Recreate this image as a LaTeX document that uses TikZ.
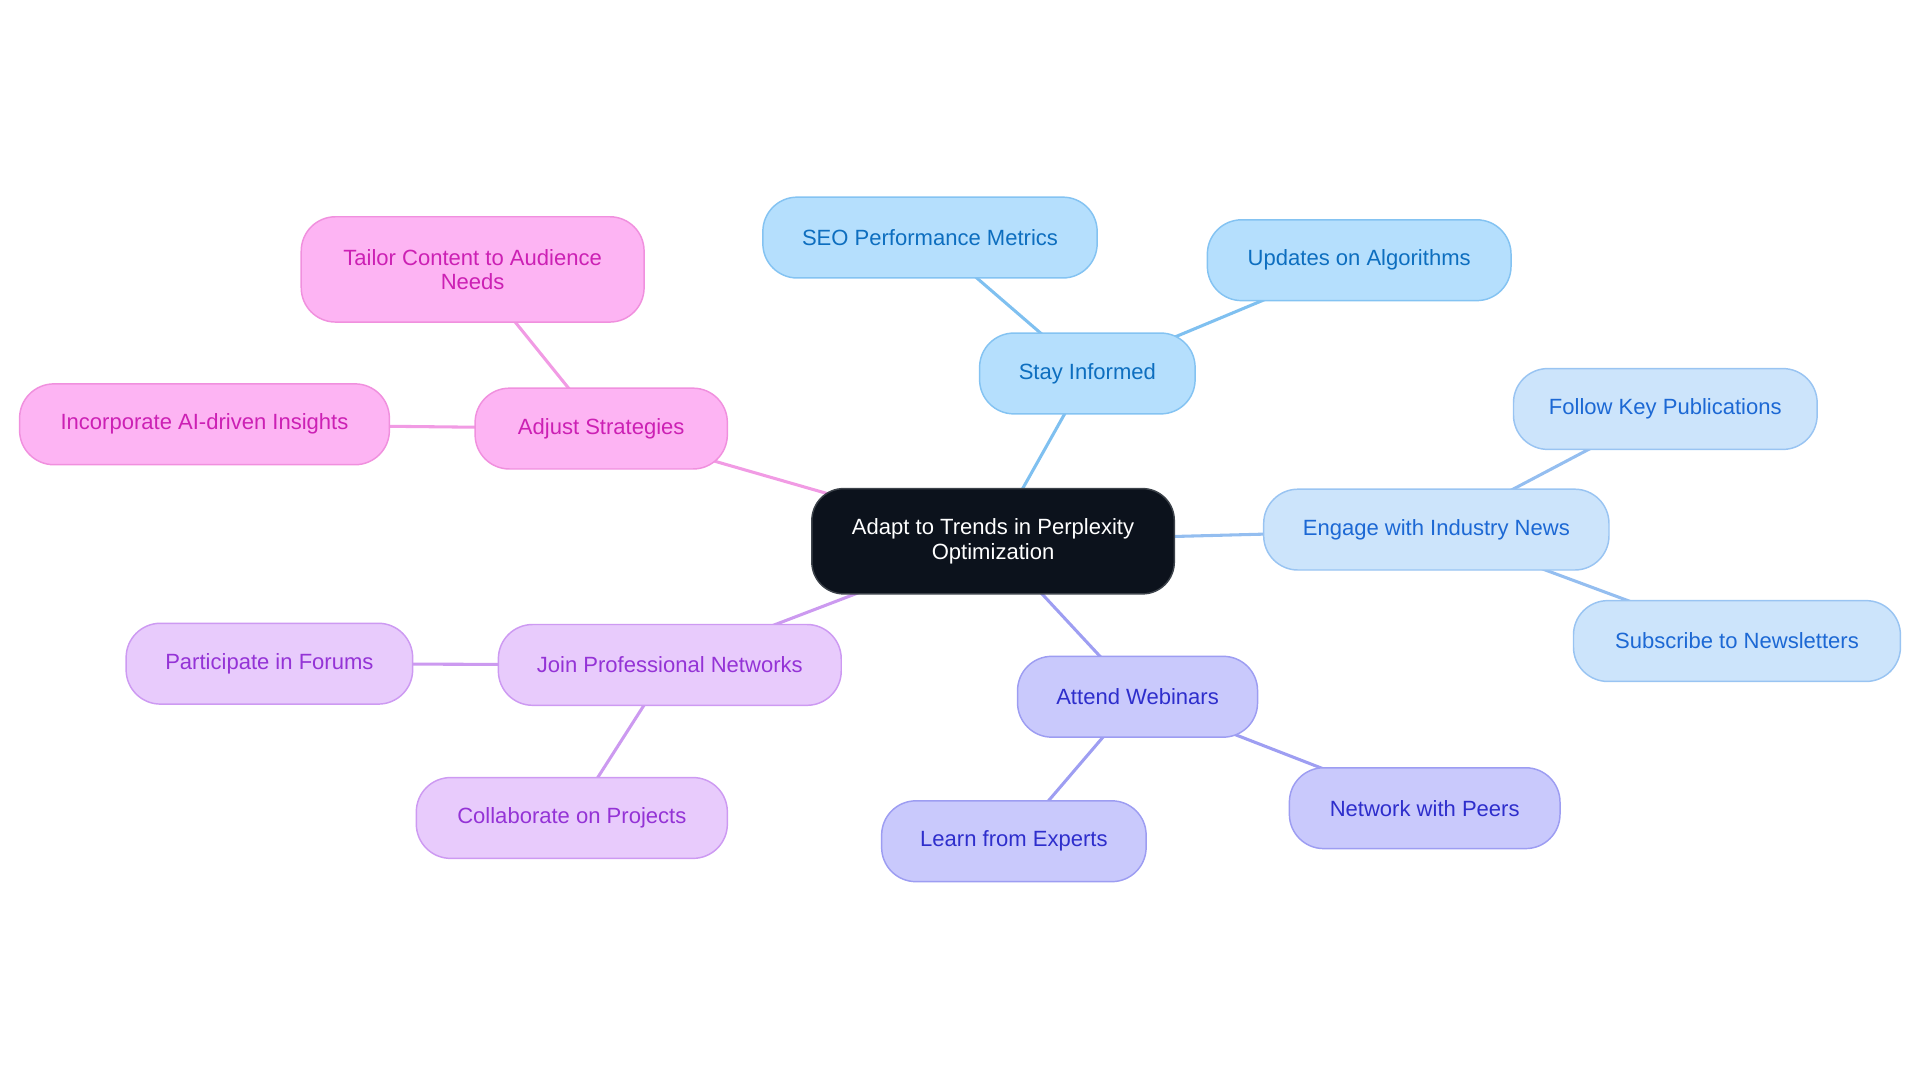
\documentclass[tikz,border=0pt]{standalone}
\usepackage{fontspec}
\setmainfont{Liberation Sans}
\usetikzlibrary{backgrounds}
\definecolor{cAf}{HTML}{B5DFFD}\definecolor{cAd}{HTML}{84C3F2}\definecolor{cAt}{HTML}{0D6EBF}\definecolor{cAe}{HTML}{7FC0F0}
\definecolor{cBf}{HTML}{CCE4FB}\definecolor{cBd}{HTML}{99C4F2}\definecolor{cBt}{HTML}{1C68D4}\definecolor{cBe}{HTML}{94BEF0}
\definecolor{cCf}{HTML}{C9C9FC}\definecolor{cCd}{HTML}{9D9DF2}\definecolor{cCt}{HTML}{2E2ECC}\definecolor{cCe}{HTML}{9E9EF2}
\definecolor{cDf}{HTML}{E8CBFC}\definecolor{cDd}{HTML}{CD9AF2}\definecolor{cDt}{HTML}{9433D6}\definecolor{cDe}{HTML}{CC9AF0}
\definecolor{cEf}{HTML}{FDB4F3}\definecolor{cEd}{HTML}{F090DE}\definecolor{cEt}{HTML}{CC20B4}\definecolor{cEe}{HTML}{F19BE4}
\definecolor{cMf}{HTML}{0C121C}\definecolor{cMd}{HTML}{3C424A}
\begin{document}
\begin{tikzpicture}[x=1pt,y=-1pt,
  box/.style={rounded corners=28pt, minimum height=66pt, inner xsep=4pt, inner ysep=2pt,
    line width=1.2pt, font=\fontsize{18}{20}\selectfont, align=center},
  gA/.style={box, fill=cAf, draw=cAd, text=cAt},
  gB/.style={box, fill=cBf, draw=cBd, text=cBt},
  gC/.style={box, fill=cCf, draw=cCd, text=cCt},
  gD/.style={box, fill=cDf, draw=cDd, text=cDt},
  gE/.style={box, fill=cEf, draw=cEd, text=cEt},
  mainbox/.style={box, rounded corners=26pt, fill=cMf, draw=cMd, text=white},
  eA/.style={draw=cAe, line width=2.5pt},
  eB/.style={draw=cBe, line width=2.5pt},
  eC/.style={draw=cCe, line width=2.5pt},
  eD/.style={draw=cDe, line width=2.5pt},
  eE/.style={draw=cEe, line width=2.5pt},
]
\useasboundingbox (0,0) rectangle (1568,884.5);
\node[mainbox, minimum width=296pt, minimum height=86pt] (c) at (811,442) {Adapt to Trends in Perplexity\\Optimization};
% Stay Informed group
\node[gA, minimum width=176pt] (si) at (888,305) {Stay Informed};
\node[gA, minimum width=273pt] (seo) at (759.5,194) {SEO Performance Metrics};
\node[gA, minimum width=248pt] (upd) at (1110,212.5) {Updates on Algorithms};
% Engage group
\node[gB, minimum width=282pt] (eng) at (1173,432.5) {Engage with Industry News};
\node[gB, minimum width=248pt] (fol) at (1360,334) {Follow Key Publications};
\node[gB, minimum width=267pt] (sub) at (1418.5,523.5) {Subscribe to Newsletters};
% Attend group
\node[gC, minimum width=196pt] (att) at (929,569) {Attend Webinars};
\node[gC, minimum width=221pt] (net) at (1163.5,660) {Network with Peers};
\node[gC, minimum width=216pt] (lea) at (828,687) {Learn from Experts};
% Join group
\node[gD, minimum width=280pt] (join) at (547,543) {Join Professional Networks};
\node[gD, minimum width=234pt] (par) at (220,542) {Participate in Forums};
\node[gD, minimum width=254pt] (col) at (467,668) {Collaborate on Projects};
% Adjust group
\node[gE, minimum width=206pt] (adj) at (491,350) {Adjust Strategies};
\node[gE, minimum width=302pt] (inc) at (167,346.5) {Incorporate AI-driven Insights};
\node[gE, minimum width=280pt, minimum height=86pt] (tai) at (386,220) {Tailor Content to Audience\\Needs};
\begin{pgfonlayer}{background}
\draw[eA] (c.center) -- (si.center);
\draw[eA] (si.center) -- (seo.center);
\draw[eA] (si.center) -- (upd.center);
\draw[eB] (c.center) -- (eng.center);
\draw[eB] (eng.center) -- (fol.center);
\draw[eB] (eng.center) -- (sub.center);
\draw[eC] (c.center) -- (att.center);
\draw[eC] (att.center) -- (net.center);
\draw[eC] (att.center) -- (lea.center);
\draw[eD] (c.center) -- (join.center);
\draw[eD] (join.center) -- (par.center);
\draw[eD] (join.center) -- (col.center);
\draw[eE] (c.center) -- (adj.center);
\draw[eE] (adj.center) -- (inc.center);
\draw[eE] (adj.center) -- (tai.center);
\end{pgfonlayer}
\end{tikzpicture}
\end{document}
